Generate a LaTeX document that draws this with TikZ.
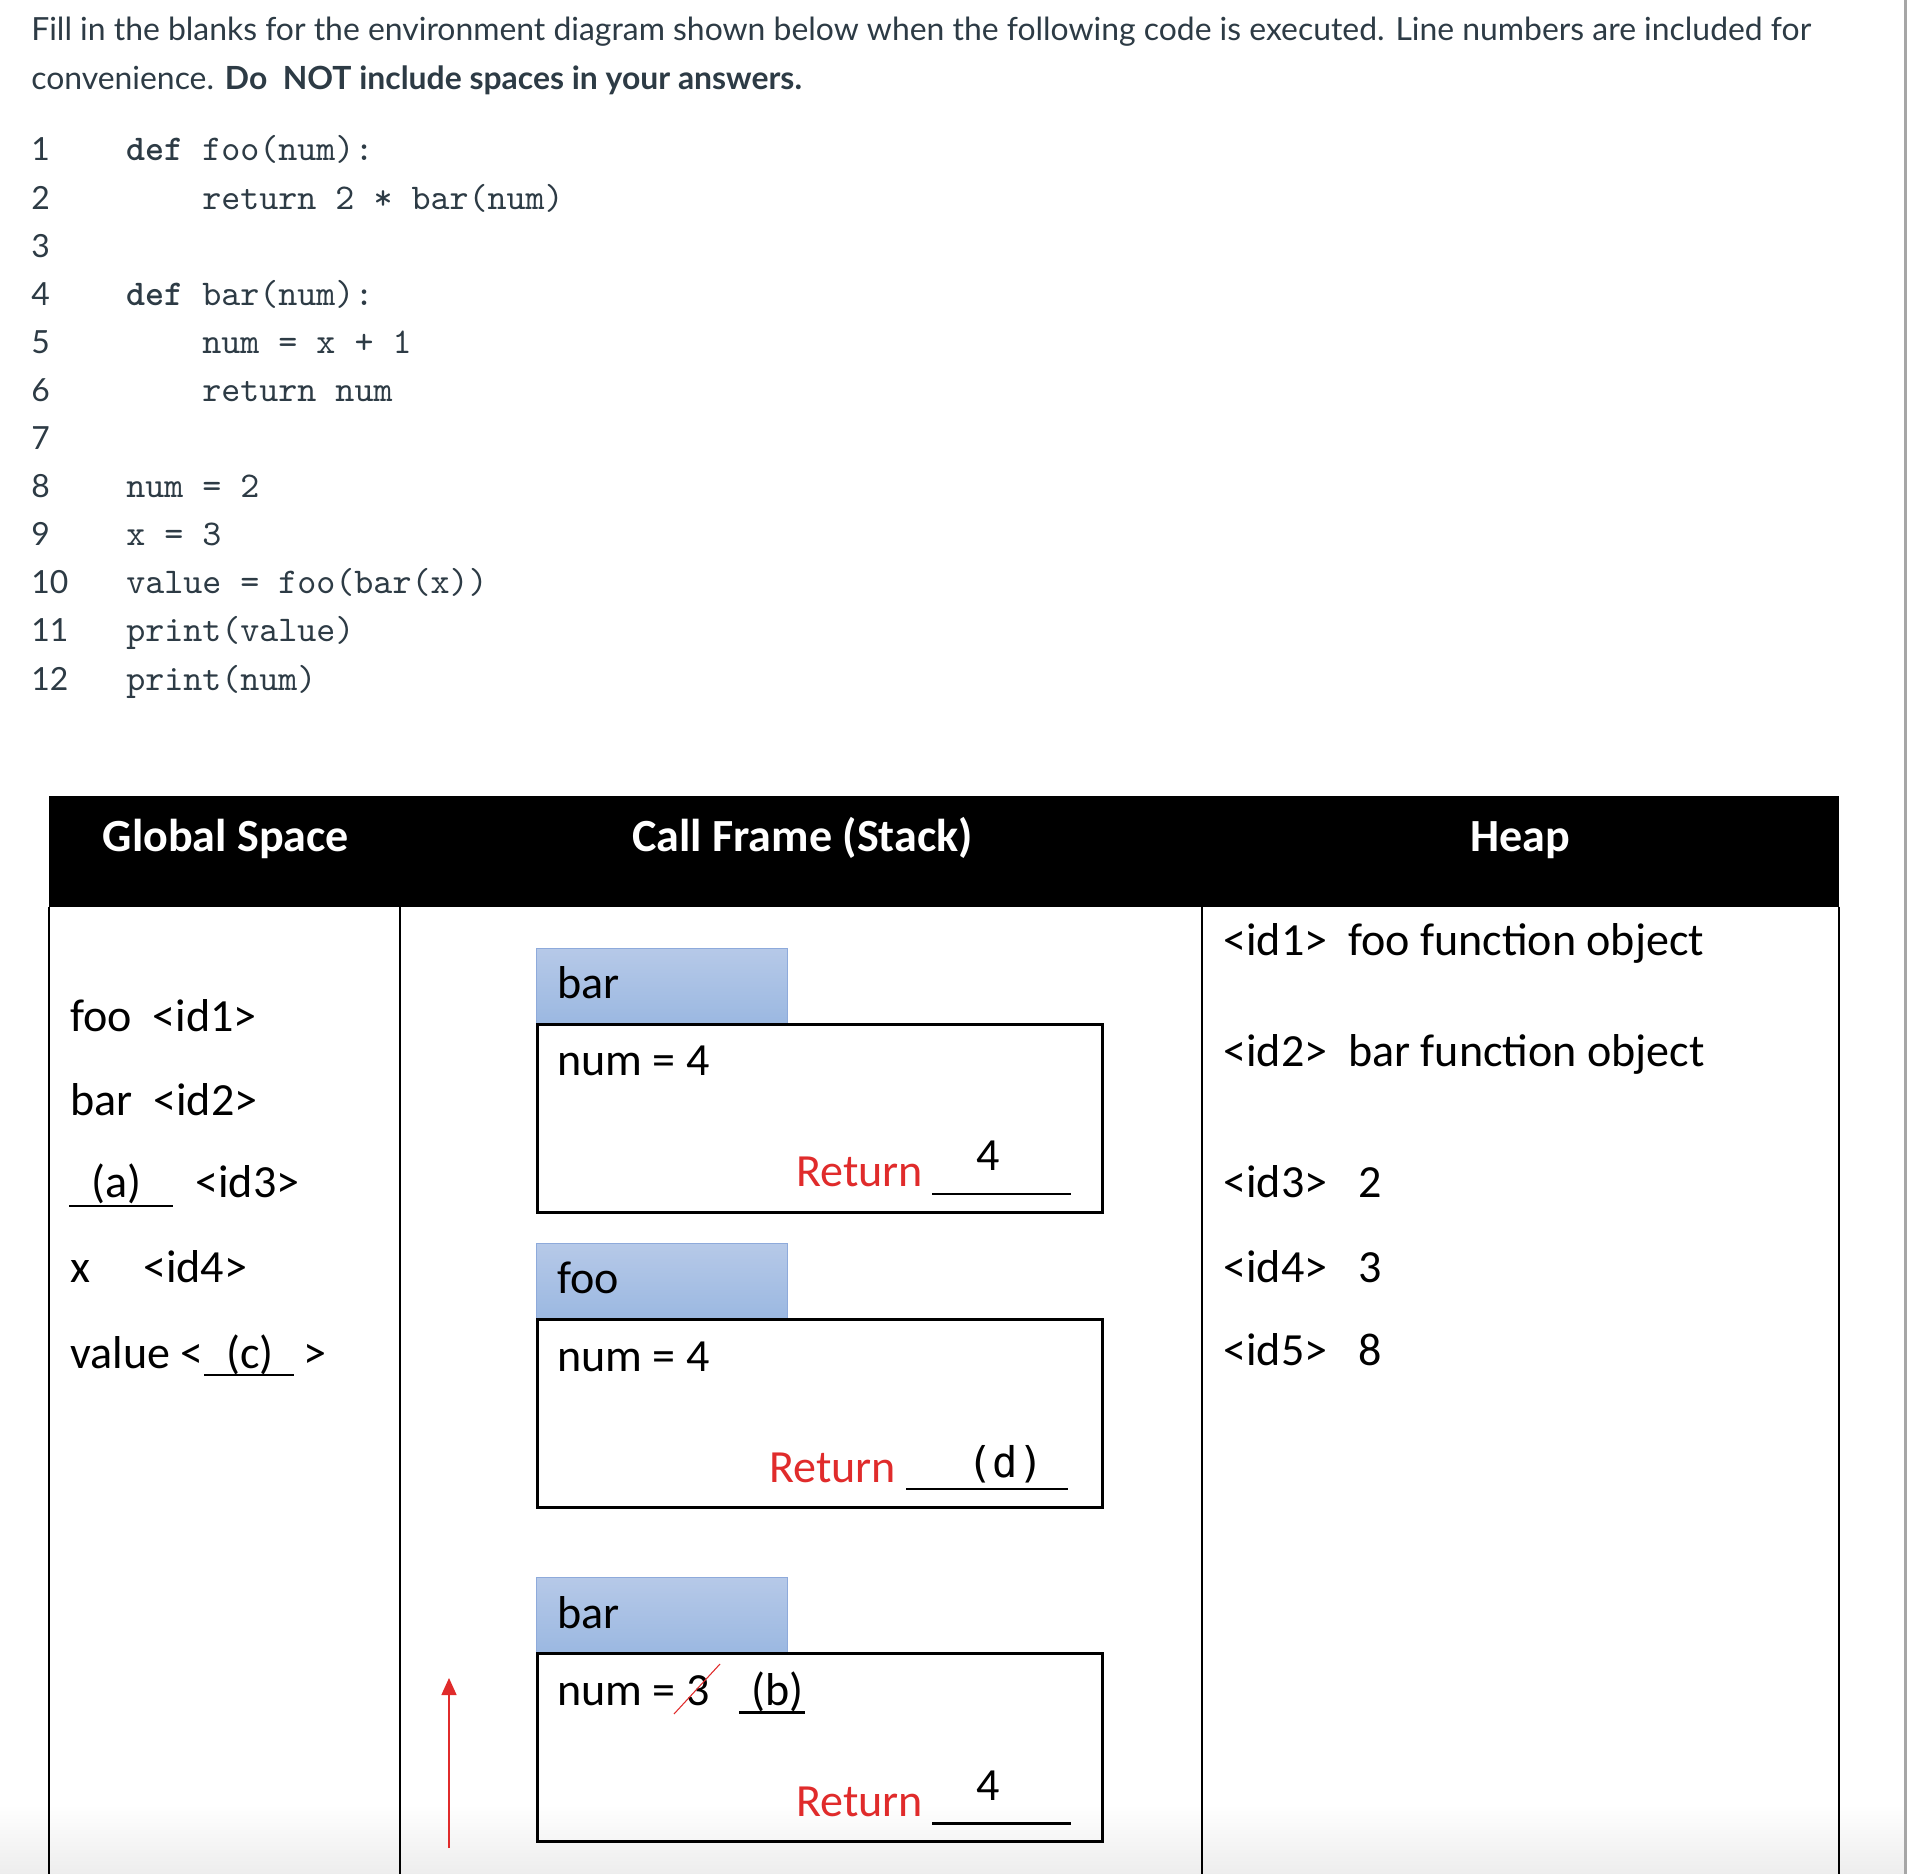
\documentclass[tikz,border=0pt]{standalone}
\usepackage{fontspec}
\setmainfont{Carlito}
\newfontfamily\latofont{Lato}
\newfontfamily\dvmono{DejaVu Sans Mono}
\usetikzlibrary{arrows.meta, positioning}
\definecolor{cvink}{HTML}{2D3B45}
\definecolor{tabtop}{HTML}{B6C9E8}
\definecolor{tabbot}{HTML}{9BB8E1}
\definecolor{tabedge}{HTML}{8EAADB}
\definecolor{retred}{HTML}{E02B2B}
\definecolor{shadegray}{HTML}{EDEDED}

\begin{document}
\begin{tikzpicture}[
    x=0.01cm, y=0.01cm,
    line width=0.75pt,
    prompt/.style={text=cvink, font=\latofont\fontsize{9.07}{11}\selectfont,
                   anchor=base west, inner sep=0pt},
    codeline/.style={text=cvink, font=\ttfamily\fontsize{10.3}{12}\selectfont,
                     anchor=base west, inner sep=0pt},
    hdcell/.style={fill=black, draw=black, text=white,
                   font=\bfseries\fontsize{13.1}{15}\selectfont,
                   minimum height=1.08cm, text height=0.2cm, text depth=0.2cm,
                   inner sep=0pt, anchor=north west},
    entry/.style={font=\fontsize{13.1}{15}\selectfont, anchor=base west, inner sep=0pt},
    retlbl/.style={entry, text=retred},
    frametab/.style={draw=tabedge, line width=0.3pt, top color=tabtop, bottom color=tabbot,
                     minimum width=2.51cm, minimum height=0.75cm, anchor=north west,
                     inner sep=0pt},
    framebox/.style={draw=black, line width=0.85pt, minimum width=5.65cm,
                     minimum height=1.88cm, anchor=north west, inner sep=0pt},
    blank/.style={line width=0.85pt},
  ]
  \useasboundingbox (0,0) rectangle (1912,-1874);
  \fill[white] (0,0) rectangle (1912,-1874);
  \shade[top color=white, bottom color=shadegray] (0,-1805) rectangle (1905,-1874);
  \draw[black!35, line width=0.85pt] (1905,0) -- (1905,-1874);

  % ===== question and code =====
  \node[prompt] (intro1) at (30,-41) {Fill in the blanks for the environment diagram shown below when the following code is executed. Line numbers are included for};
  \node[prompt] (intro2) at (30,-90) {convenience. \textbf{Do\ \ NOT include spaces in your answers.}};
  \foreach \n/\src in {1/{\textbf{def} foo(num):}, 2/{\phantom{xxxx}return 2 * bar(num)}, 3/{},
                       4/{\textbf{def} bar(num):}, 5/{\phantom{xxxx}num = x + 1},
                       6/{\phantom{xxxx}return num}, 7/{}, 8/{num = 2}, 9/{x = 3},
                       10/{value = foo(bar(x))}, 11/{print(value)}, 12/{print(num)}} {
    \node[prompt] (ln\n) at (30,{-161-48.1*(\n-1)}) {\n};
    \node[codeline] (code\n) at (125,{-161-48.1*(\n-1)}) {\src};
  }

  % ===== table header =====
  \node[hdcell, minimum width=3.51cm] (hdglobal) at (49,-796) {Global Space};
  \node[hdcell, minimum width=8.02cm] (hdstack) at (400,-796) {Call Frame (Stack)};
  \node[hdcell, minimum width=6.34cm] (hdheap) at (1202,-796) {Heap};
  \draw (hdglobal.south west) -- ++(0,-970);
  \draw (hdstack.south west) -- ++(0,-970);
  \draw (hdheap.south west) -- ++(0,-970);
  \draw (hdheap.south east) -- ++(0,-970);

  % ===== global space =====
  \node[entry] (gfoo) at (69,-1032) {foo\ \ <id1>};
  \node[entry] (gbar) at (69,-1116) {bar\ \ <id2>};
  \node[entry] (gablank) at (90,-1198) {(a)};
  \draw[blank] (69,-1206) -- (173,-1206);
  \node[entry] (gaid) at (194,-1198) {<id3>};
  \node[entry] (gx) at (69,-1282) {x};
  \node[entry] (gxid) at (142,-1282) {<id4>};
  \node[entry] (gval) at (69,-1368) {value <};
  \node[entry] (gcblank) at (225,-1368) {(c)};
  \node[entry] (gvalend) at (302,-1368) {>};
  \draw[blank] (204,-1375) -- (294,-1375);

  % ===== call frames =====
  \foreach \k/\dy/\fn in {1/0/bar, 2/295/foo, 3/629/bar} {
    \node[frametab] (tab\k) at (536,-948-\dy) {};
    \node[framebox] (box\k) at (536,-1023-\dy) {};
    \node[entry] (fname\k) at (556,-999-\dy) {\fn};
  }
  \node[entry] (num1) at (556,-1076) {num = 4};
  \node[retlbl] (ret1) at (795,-1187) {Return};
  \draw[blank] (932,-1194) -- (1071,-1194);
  \node[entry] (rv1) at (975,-1171) {4};

  \node[entry] (num2) at (556,-1371) {num = 4};
  \node[retlbl] (ret2) at (768,-1482) {Return};
  \draw[blank] (906,-1489) -- (1068,-1489);
  \node[entry, font=\dvmono\fontsize{12}{14}\selectfont] (rv2) at (966,-1477) {(d)};

  \node[entry] (num3) at (556,-1705) {num = 3};
  \draw[retred, line width=0.3pt] (674,-1714) -- (720,-1664);
  \node[entry] (bblank) at (750,-1705) {(b)};
  \draw[blank] (739,-1712) -- (805,-1712);
  \node[retlbl] (ret3) at (795,-1816) {Return};
  \draw[blank] (932,-1823) -- (1071,-1823);
  \node[entry] (rv3) at (975,-1800) {4};

  \coordinate (stackfoot) at (449,-1848);
  \coordinate (stackhead) at (449,-1678);
  \draw[retred, line width=0.4pt, -{Triangle[length=0.17cm, width=0.15cm]}]
    (stackfoot) -- (stackhead);

  % ===== heap =====
  \node[entry] (heap1) at (1222,-956) {<id1>\ \ foo function object};
  \node[entry] (heap2) at (1222,-1067) {<id2>\ \ bar function object};
  \node[entry] (heap3) at (1222,-1198) {<id3>\ \ \ 2};
  \node[entry] (heap4) at (1222,-1282) {<id4>\ \ \ 3};
  \node[entry] (heap5) at (1222,-1366) {<id5>\ \ \ 8};
\end{tikzpicture}
\end{document}
